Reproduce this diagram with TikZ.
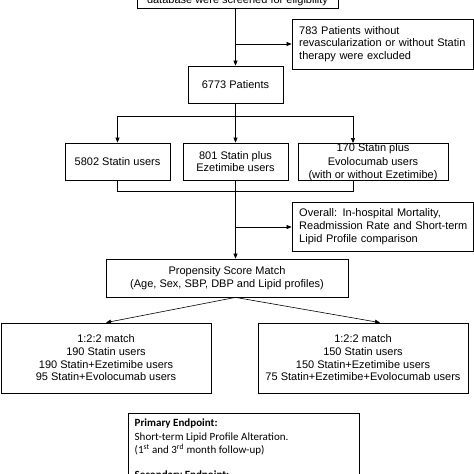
\documentclass[tikz,border=0pt]{standalone}
\usepackage{fontspec}
\setmainfont{Liberation Sans}
\newfontfamily\calib{Carlito}
\usetikzlibrary{arrows.meta}
\begin{document}
\begin{tikzpicture}[x=1pt,y=-1pt,
  box/.style={draw=black, line width=0.8pt, inner sep=0pt, align=center, font=\fontsize{11}{12.7}\selectfont},
  txt/.style={inner sep=0pt, align=left, font=\fontsize{11}{12.7}\selectfont},
  arr/.style={line width=0.6pt, -{Triangle[length=5pt,width=4pt]}},
  ln/.style={line width=0.6pt}]
\useasboundingbox (0,0) rectangle (474,474);
% top box (cut off)
\node[box, minimum width=201pt, minimum height=60pt, anchor=south] (top) at (237.5,9) {};
\node[font=\fontsize{11}{12.7}\selectfont, anchor=base, inner sep=0pt] (toptxt) at (237.5,3) {database were screened for eligibility};
% exclusion
\node[box, minimum width=181pt, minimum height=50pt] (excl) at (382.5,44) {};
\node[txt, text width=172pt, anchor=west] (excltxt) at (299,44) {783 Patients without\\revascularization or without Statin\\therapy were excluded};
\node[box, minimum width=95pt, minimum height=37pt] (six) at (235.5,84.5) {6773 Patients};
% groups
\node[box, minimum width=105pt, minimum height=37pt] (s1) at (117.5,161.5) {5802 Statin users};
\node[box, minimum width=105pt, minimum height=37pt] (s2) at (235.5,161.5) {801 Statin plus\\Ezetimibe users};
\node[box, minimum width=150pt, minimum height=37pt] (s3) at (373,161.5) {};
\node[font=\fontsize{11}{13.5}\selectfont, align=center, inner sep=0pt] (s3txt) at (373,162.5) {170 Statin plus\\Evolocumab users\\(with or without Ezetimibe)};
% overall
\node[box, minimum width=181pt, minimum height=49pt] (over) at (382.5,226.5) {};
\node[txt, text width=175pt, anchor=west] (overtxt) at (299,226.5) {Overall: In-hospital Mortality,\\Readmission Rate and Short-term\\Lipid Profile comparison};
% propensity
\node[box, minimum width=242pt, minimum height=38pt] (prop) at (227,278) {Propensity Score Match\\(Age, Sex, SBP, DBP and Lipid profiles)};
% matches
\node[box, minimum width=210pt, minimum height=70pt] (m1) at (106,358) {1:2:2 match\\190 Statin users\\190 Statin+Ezetimibe users\\95 Statin+Evolocumab users};
\node[box, minimum width=210pt, minimum height=70pt] (m2) at (363,358) {1:2:2 match\\150 Statin users\\150 Statin+Ezetimibe users\\75 Statin+Ezetimibe+Evolocumab users};
% endpoints
\node[box, minimum width=231pt, minimum height=110pt, anchor=north] (end) at (243.5,413) {};
\node[anchor=north west, inner sep=0pt, align=left, font=\calib\fontsize{11}{13.5}\selectfont] (endtxt) at (134.5,419) {\textbf{Primary Endpoint:}\\Short-term Lipid Profile Alteration.\\(1\textsuperscript{st} and 3\textsuperscript{rd} month follow-up)\\[11pt]\textbf{Secondary Endpoint:}};
% connectors
\coordinate (b1) at (235.5,44);
\coordinate (b2) at (235.5,116);
\coordinate (b3) at (235.5,191);
\coordinate (b4) at (235.5,227);
\draw[arr] (top.south -| six) -- (six.north);
\draw[arr] (b1) -- (b1 -| excl.west);
\draw[ln] (six.south) -- (b2);
\draw[ln] (b2 -| s1) -- (353,116);
\draw[arr] (b2 -| s1) -- (s1.north);
\draw[arr] (b2) -- (s2.north);
\draw[arr] (353,116) -- (353,143);
\draw[ln] (s1.south) -- (b3 -| s1) -- (353,191) -- (353,180);
\draw[arr] (s2.south) -- (s2.south |- prop.north);
\draw[arr] (b4) -- (b4 -| over.west);
\draw[arr] (prop.south -| s2) -- (m1.north);
\draw[arr] (prop.south -| s2) -- ([xshift=17pt]m2.north);
\end{tikzpicture}
\end{document}
